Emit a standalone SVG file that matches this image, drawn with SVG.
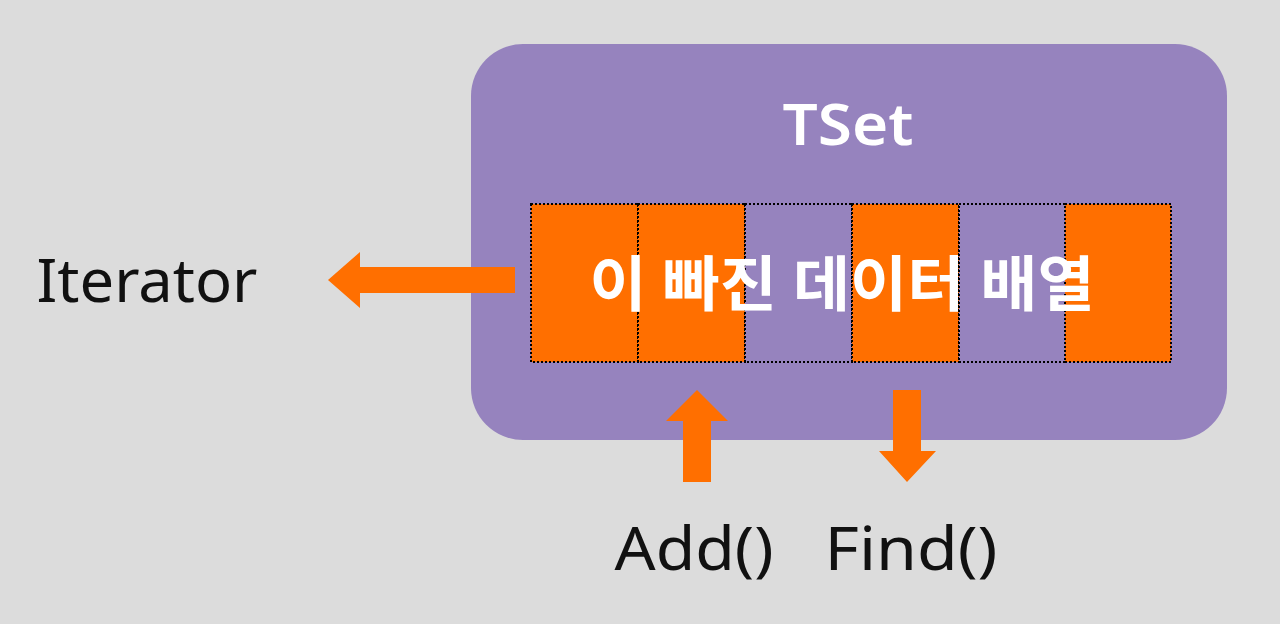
<svg xmlns="http://www.w3.org/2000/svg" width="1280" height="624" viewBox="0 0 1280 624">
<style>
.t{font-family:"Noto Sans","Noto Sans CJK KR",sans-serif;}
.cell{stroke:#000;stroke-width:2;stroke-dasharray:2 2;}
.o{fill:#FF6F00;}
.p{fill:#9683BE;}
.arr{fill:#FF6F00;}
</style>
<rect width="1280" height="624" fill="#DCDCDC"/>
<g id="tset">
<rect x="471" y="44" width="756" height="396" rx="52" fill="#9683BE"/>
<text class="t" x="848" y="145" font-size="58" font-weight="600" fill="#fff" text-anchor="middle" textLength="131" lengthAdjust="spacingAndGlyphs">TSet</text>
</g>
<g id="array">
<rect class="cell o" x="531" y="204" width="107" height="158"/>
<rect class="cell o" x="638" y="204" width="107" height="158"/>
<rect class="cell p" x="745" y="204" width="107" height="158"/>
<rect class="cell o" x="852" y="204" width="107" height="158"/>
<rect class="cell p" x="959" y="204" width="106" height="158"/>
<rect class="cell o" x="1065" y="204" width="106" height="158"/>
<text class="t" x="842" y="306" font-size="60" font-weight="bold" fill="#fff" text-anchor="middle" textLength="505" lengthAdjust="spacingAndGlyphs">이 빠진 데이터 배열</text>
</g>
<g id="connectors">
<polygon class="arr" points="515,267 360,267 360,252 328,280 360,308 360,293 515,293"/>
<polygon class="arr" points="683,482 683,421 666,421 697,390 728,421 711,421 711,482"/>
<polygon class="arr" points="893,390 921,390 921,451 936,451 907,482 879,451 893,451"/>
</g>
<g id="labels">
<text class="t" x="147" y="302" font-size="60" fill="#111" text-anchor="middle" textLength="221" lengthAdjust="spacingAndGlyphs">Iterator</text>
<text class="t" x="694" y="570" font-size="60" fill="#111" text-anchor="middle" textLength="159" lengthAdjust="spacingAndGlyphs">Add()</text>
<text class="t" x="911" y="570" font-size="60" fill="#111" text-anchor="middle" textLength="173" lengthAdjust="spacingAndGlyphs">Find()</text>
</g>
</svg>
